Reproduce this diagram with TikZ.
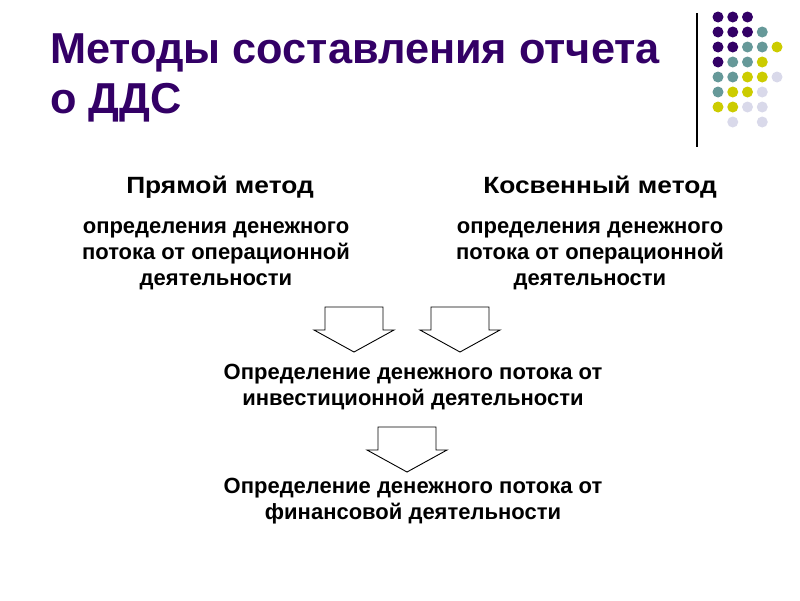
\documentclass[tikz,border=0pt]{standalone}
\usepackage{fontspec}
\setmainfont{Liberation Sans}
\newfontfamily\headfont[FakeStretch=1.12]{Liberation Sans}
\usepackage{xcolor}
\usetikzlibrary{positioning}
\definecolor{P}{HTML}{330066}
\definecolor{T}{HTML}{669999}
\definecolor{Y}{HTML}{CCCC00}
\definecolor{L}{HTML}{D9D9EA}
\tikzset{
  heading/.style={anchor=base, inner sep=0pt,
    font=\headfont\bfseries\fontsize{23.5}{26}\selectfont},
  bodytext/.style={anchor=base, align=center, inner sep=0pt,
    font=\bfseries\fontsize{22}{26}\selectfont},
  blockarrow/.style={draw=black, line width=0.9pt, fill=white, line join=miter},
}
\newcommand{\flowarrow}[2]{%
  \draw[blockarrow] (#1-29,#2) -- (#1+29,#2) -- (#1+29,#2+23) -- (#1+40,#2+23)
    -- (#1,#2+45) -- (#1-40,#2+23) -- (#1-29,#2+23) -- cycle;}

\begin{document}
\begin{tikzpicture}[x=1pt, y=-1pt]

  \useasboundingbox (0,0) rectangle (800,600);

  % Title
  \node[anchor=base west, align=left, inner sep=0pt, text=P,
    font=\bfseries\fontsize{43.3}{50}\selectfont] (title) at (50,113)
    {Методы составления отчета\\о ДДС};

  % Decoration
  \draw[line width=1.2pt] (697,13) -- (697,147);
  \foreach \row/\cols in {
      17/{P,P,P,N,N}, 32/{P,P,P,T,N}, 47/{P,P,T,T,Y}, 62/{P,T,T,Y,N},
      77/{T,T,Y,Y,L}, 92/{T,Y,Y,L,N}, 107/{Y,Y,L,L,N}, 122/{N,L,N,L,N}} {
    \foreach \c [count=\i from 0] in \cols {
      \if N\c\else
        \fill[\c] (718+14.75*\i,\row) circle (5.5);
      \fi
    }
  }

  % Methods
  \node[heading] (direct) at (220,193) {Прямой метод};
  \node[heading] (indirect) at (600,193) {Косвенный метод};
  \node[bodytext] (direct_op) at (216,285)
    {определения денежного\\потока от операционной\\деятельности};
  \node[bodytext] (indirect_op) at (590,285)
    {определения денежного\\потока от операционной\\деятельности};

  % Arrows
  \flowarrow{354}{307}
  \flowarrow{460}{307}

  \node[bodytext] (invest) at (413,405)
    {Определение денежного потока от\\инвестиционной деятельности};

  \flowarrow{407}{427}

  \node[bodytext] (finance) at (413,519)
    {Определение денежного потока от\\финансовой деятельности};

\end{tikzpicture}
\end{document}
